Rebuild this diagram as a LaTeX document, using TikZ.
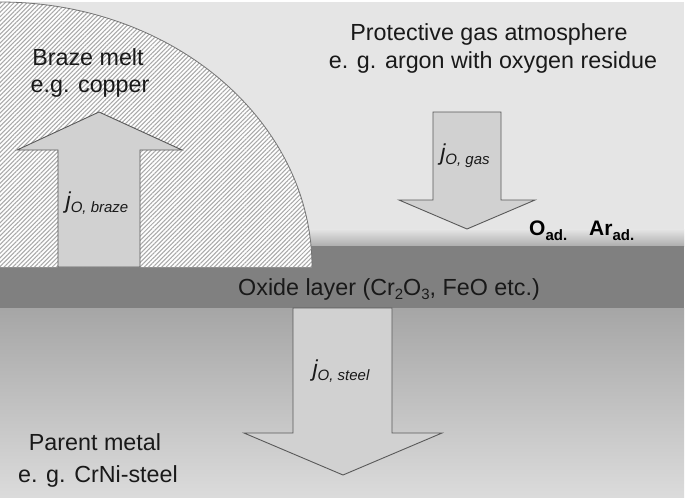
\documentclass[tikz,border=0pt]{standalone}
\usepackage{fontspec}
\setmainfont{Liberation Sans}
\usetikzlibrary{patterns.meta}
\definecolor{bgtop}{gray}{0.90}
\definecolor{bgdark}{gray}{0.68}
\definecolor{oxide}{gray}{0.50}
\definecolor{steeltop}{gray}{0.65}
\definecolor{steelbot}{gray}{0.86}
\definecolor{arrowfill}{gray}{0.82}
\definecolor{arrowline}{gray}{0.35}
\definecolor{hatch}{gray}{0.66}
\definecolor{hatchline}{gray}{0.45}
\begin{document}
\begin{tikzpicture}[x=1pt,y=-1pt,
  txt/.style={font=\fontsize{23.3}{28}\selectfont, inner sep=0pt, anchor=base, text=black!90},
  flux/.style={font=\fontsize{23}{28}\selectfont\itshape, inner sep=0pt, anchor=base, text=black!90},
  adlabel/.style={font=\fontsize{21}{24}\selectfont\bfseries, inner sep=0pt, anchor=base west},
  fluxarrow/.style={fill=arrowfill, draw=arrowline, line width=0.9pt, line join=miter}]
\useasboundingbox (0,0) rectangle (685,499);
\fill[white] (0,0) rectangle (685,499);
% gas atmosphere
\fill[bgtop] (0,2) rectangle (684,231);
\shade[top color=bgtop, bottom color=bgdark] (0,229) rectangle (684,246);
% oxide layer
\fill[oxide] (0,246) rectangle (684,308);
% parent metal
\shade[top color=steeltop, bottom color=steelbot] (0,308) rectangle (684,497);
% braze melt
\fill[white] (0,267) -- (312,267) arc[start angle=0, end angle=-90, x radius=312, y radius=265] -- cycle;
\fill[pattern={Lines[angle=45, distance=3.1pt, line width=1.05pt]}, pattern color=hatch]
  (0,267) -- (312,267) arc[start angle=0, end angle=-90, x radius=312, y radius=265] -- cycle;
\draw[hatchline, line width=0.8pt] (312,267) arc[start angle=0, end angle=-90, x radius=312, y radius=265];
% flux arrows
\draw[fluxarrow] (58,267) -- (58,150) -- (17,150) -- (99,112) -- (182,150) -- (140,150) -- (140,267) -- cycle;
\draw[fluxarrow] (433,112) -- (501,112) -- (501,200) -- (535,200) -- (467,229) -- (399,200) -- (433,200) -- cycle;
\draw[fluxarrow] (293,308) -- (392,308) -- (392,433) -- (442,433) -- (343,475) -- (244,433) -- (293,433) -- cycle;
% texts
\node[txt] (braze1) at (88,65) {Braze melt};
\node[txt] (braze2) at (90,92) {e.g. copper};
\node[txt] (gas1) at (489,40) {Protective gas atmosphere};
\node[txt] (gas2) at (493,68) {e. g. argon with oxygen residue};
\node[txt] (oxide) at (389,295) {Oxide layer (Cr\raisebox{-4pt}{\fontsize{15}{15}\selectfont 2}O\raisebox{-4pt}{\fontsize{15}{15}\selectfont 3}, FeO etc.)};
\node[txt] (parent1) at (95,450) {Parent metal};
\node[txt] (parent2) at (98,482) {e. g. CrNi-steel};
\node[flux] (jbraze) at (97,208) {j\raisebox{-4pt}{\fontsize{15}{15}\selectfont O, braze}};
\node[flux] (jgas) at (465,160) {j\raisebox{-4pt}{\fontsize{15}{15}\selectfont O, gas}};
\node[flux] (jsteel) at (341,376) {j\raisebox{-4pt}{\fontsize{15}{15}\selectfont O, steel}};
\node[adlabel] (oad) at (529,235) {O\raisebox{-5pt}{\fontsize{15}{15}\selectfont ad.}};
\node[adlabel] (arad) at (589,235) {Ar\raisebox{-5pt}{\fontsize{15}{15}\selectfont ad.}};
\end{tikzpicture}
\end{document}
